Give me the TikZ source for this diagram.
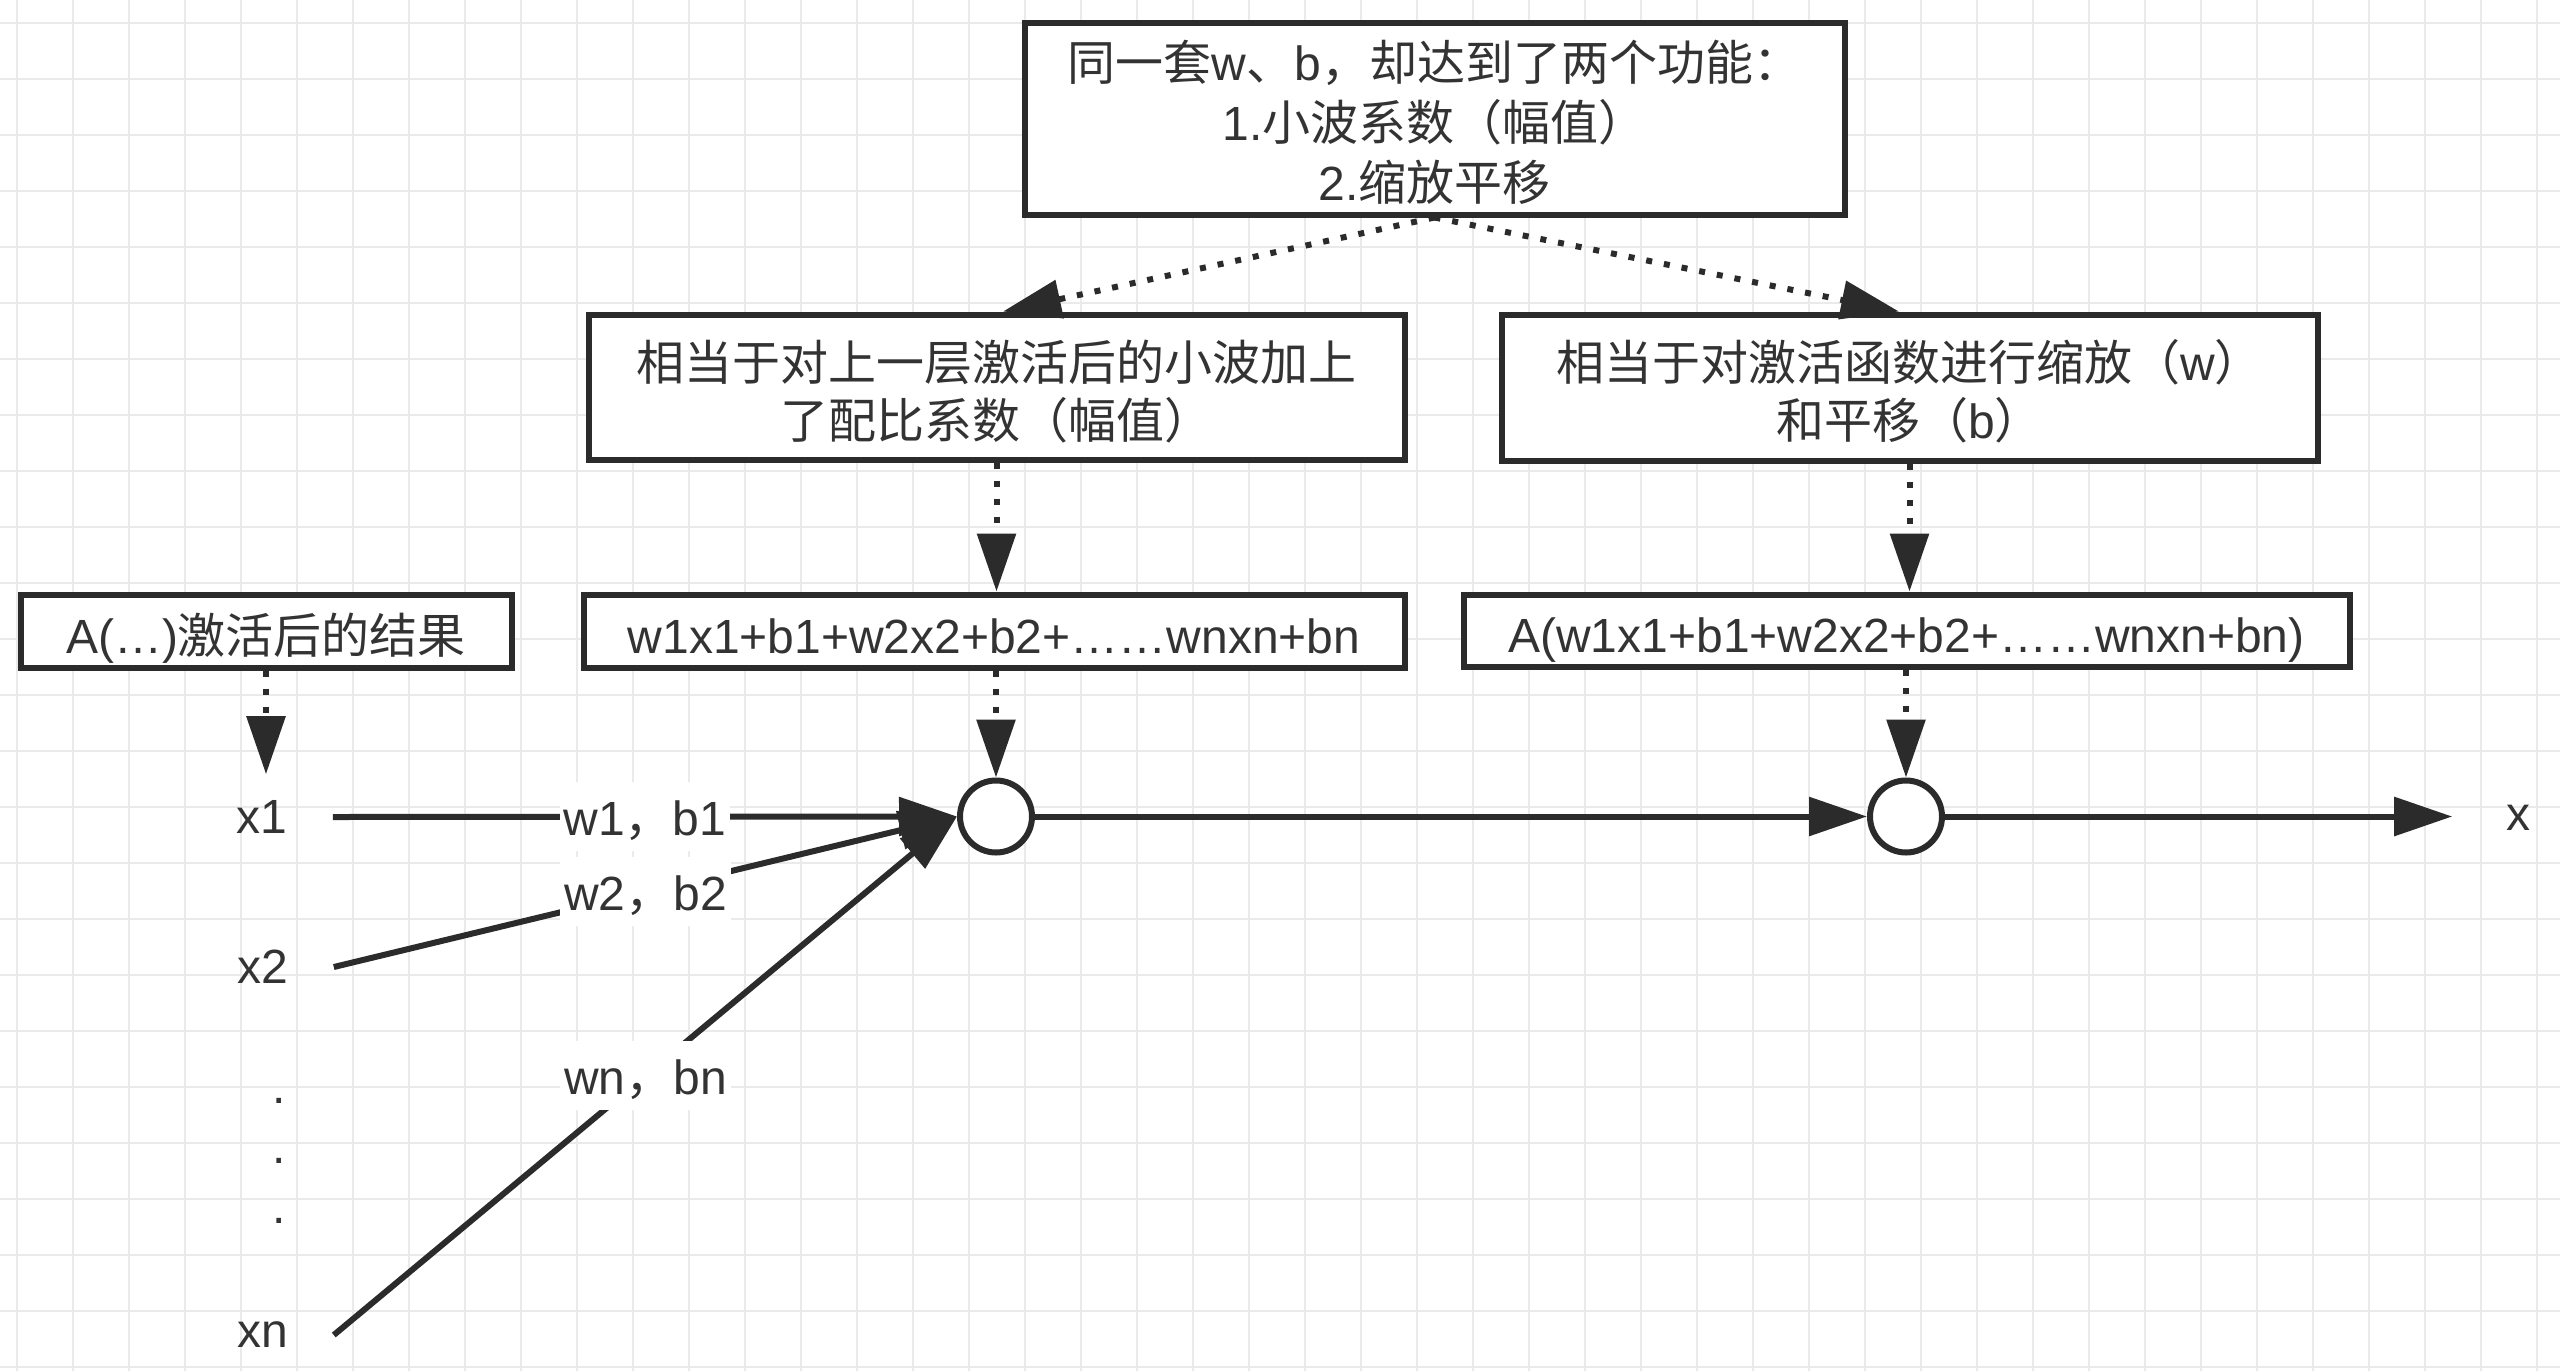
\documentclass[tikz,border=0pt]{standalone}
\usepackage{fontspec}
\setmainfont{Liberation Sans}
\newfontfamily\cjk{Noto Sans CJK SC}
\usetikzlibrary{arrows.meta,calc}
\definecolor{lc}{HTML}{2B2B2B}
\definecolor{tc}{HTML}{333333}
\definecolor{gc}{HTML}{EAEAEA}
\newcommand\boxtopstrut{\rule{0pt}{14pt}}
\newcommand\boxbotstrut{\rule[-3pt]{0pt}{0pt}}
\newcommand\lblstrut{\rule{0pt}{10.5pt}\rule[-1pt]{0pt}{0pt}}
\begin{document}
\begin{tikzpicture}[x=0.25pt,y=-0.25pt,
  font=\fontsize{12pt}{15pt}\selectfont,
  gridl/.style={draw=gc, line width=0.5pt},
  box/.style={draw=lc, line width=1.5pt, fill=white, text=tc, align=center, inner sep=0pt},
  circ/.style={circle, draw=lc, line width=1.5pt, fill=white, minimum size=18pt, inner sep=0pt},
  inp/.style={text=tc, minimum width=35pt, minimum height=21pt, inner sep=0pt},
  txt/.style={text=tc, inner sep=0pt},
  elbl/.style={fill=white, text=tc, inner xsep=1pt, inner ysep=0pt, minimum height=17.25pt},
  ln/.style={draw=lc, line width=1.5pt},
  arr/.style={ln, -{Triangle[length=14.5pt,width=9.5pt]}},
  darr/.style={arr, dash pattern=on 1.5pt off 3pt}]
\fill[white] (0,0) rectangle (2560,1371);
\useasboundingbox (0,0) rectangle (2560,1371);
\foreach \i in {0,...,45} {\draw[gridl] (16.7+56*\i,0) -- (16.7+56*\i,1371);}
\foreach \j in {0,...,24} {\draw[gridl] (0,22.7+56*\j) -- (2560,22.7+56*\j);}

% boxes
\node[box, minimum width=205pt, minimum height=48pt] (top) at (1434.5,118.5)
  {\boxtopstrut{\cjk 同一套}w{\cjk 、}b{\cjk ，却达到了两个功能：}\\1.{\cjk 小波系数（幅值）}\\2.{\cjk 缩放平移}\boxbotstrut};
\node[box, minimum width=204pt, minimum height=36.25pt, font=\fontsize{12pt}{14.5pt}\selectfont] (mL) at (996.5,387)
  {\boxtopstrut{\cjk 相当于对上一层激活后的小波加上}\\{\cjk 了配比系数（幅值）}\boxbotstrut};
\node[box, minimum width=204pt, minimum height=36.5pt, font=\fontsize{12pt}{14.5pt}\selectfont] (mR) at (1909.5,387.5)
  {\boxtopstrut{\cjk 相当于对激活函数进行缩放（}w{\cjk ）}\\{\cjk 和平移（}b{\cjk ）}\boxbotstrut};
\node[box, minimum width=122.75pt, minimum height=18.25pt] (bA) at (266,631) {\boxtopstrut A(…){\cjk 激活后的结果}\boxbotstrut};
\node[box, minimum width=205.25pt, minimum height=18.25pt] (bS) at (994,631) {\boxtopstrut w1x1+b1+w2x2+b2+……wnxn+bn\boxbotstrut};
\node[box, minimum width=221.5pt, minimum height=18pt] (bF) at (1906.5,630.5) {\boxtopstrut A(w1x1+b1+w2x2+b2+……wnxn+bn)\boxbotstrut};

% neurons
\node[circ] (c1) at (996,816.5) {};
\node[circ] (c2) at (1906,816.5) {};

% inputs and output
\node[inp] (x1) at (262,817) {x1};
\node[inp] (x2) at (263,967) {x2};
\node[inp] (xn) at (263,1335) {xn};
\node[txt, anchor=base] (d1) at (279,1103) {.};
\node[txt, anchor=base] (d2) at (279,1163) {.};
\node[txt, anchor=base] (d3) at (279,1223) {.};
\node[inp, minimum width=32.5pt] (xo) at (2518,818) {x};

% dotted connectors
\draw[darr] (top.south) -- ($(mL.north)+(6.5,0)$);
\draw[darr] (top.south) -- ($(mR.north)+(-10.5,0)$);
\draw[darr] (mL.south) -- (mL.south |- bS.north);
\draw[darr] (mR.south) -- (mR.south |- bF.north);
\draw[darr] (c1 |- bS.south) -- (c1.north);
\draw[darr] (c2 |- bF.south) -- (c2.north);
\draw[darr] (bA.south) -- (bA.south |- x1.north);

% solid connectors
\draw[arr] (x1.east) -- node[elbl] {\lblstrut w1{\cjk ，}b1} (c1.west);
\draw[arr] (x2.east) -- node[elbl] {\lblstrut w2{\cjk ，}b2} (c1.west);
\draw[arr] (xn.east) -- node[elbl] {\lblstrut wn{\cjk ，}bn} (c1.west);
\draw[arr] (c1.east) -- (c2.west);
\draw[arr] (c2.east) -- (c2.east -| xo.west);
\end{tikzpicture}
\end{document}
